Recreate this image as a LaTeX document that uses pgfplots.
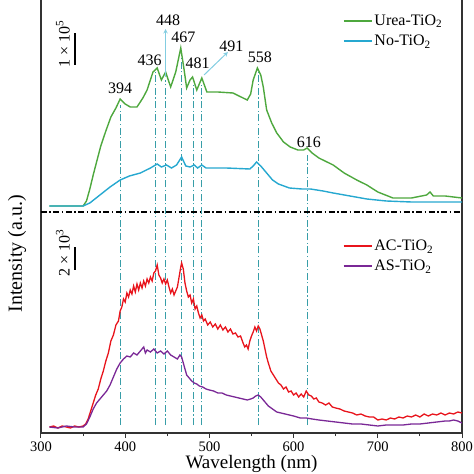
\documentclass[border=0pt]{standalone}
\usepackage{pgfplots}
\pgfplotsset{compat=1.18}
\usepackage{fontspec}
\setmainfont{Liberation Serif}
\definecolor{cgreen}{RGB}{78,168,62}
\definecolor{ccyan}{RGB}{38,168,208}
\definecolor{cred}{RGB}{232,20,28}
\definecolor{cpurple}{RGB}{122,40,150}
\definecolor{cteal}{RGB}{56,158,168}
\definecolor{carrow}{RGB}{130,205,225}
\pgfplotsset{
  base/.style={width=421pt, height=437pt, scale only axis, xmin=300, xmax=800, ymin=0, ymax=437, at={(0pt,0pt)}, anchor=south west},
  leg/.style={legend cell align=left, legend style={draw=none, fill=none, font=\fontsize{16}{18}\selectfont, row sep=4pt, inner sep=0pt, anchor=north west},
    legend image code/.code={\draw[##1] (0pt,0pt) -- (28pt,0pt);}},
  vl/.style={cteal, line width=0.9pt, dash pattern=on 7pt off 2.5pt on 1.2pt off 2.5pt, forget plot},
}
\begin{document}
\begin{tikzpicture}
\path[use as bounding box, clip] (-41pt,-41pt) rectangle (433pt,433pt);
\begin{axis}[base, leg,
  legend style={at={(axis description cs:0.717,0.962)}},
  axis line style={draw=black!80, line width=1.2pt},
  xtick={300,400,...,800}, minor xtick={350,450,...,750}, ytick=\empty,
  xtick pos=bottom, tick align=outside, major tick length=5pt, minor tick length=3pt,
  every tick/.style={black!80, line width=1pt},
  xticklabel style={font=\fontsize{14.5}{16}\selectfont, /pgf/number format/assume math mode=true},
  xlabel={Wavelength (nm)}, xlabel style={font=\fontsize{19}{21}\selectfont, at={(axis description cs:0.5,0)}, anchor=base, yshift=-35.5pt},
  ylabel={Intensity (a.u.)}, ylabel style={font=\fontsize{20}{22}\selectfont, at={(axis description cs:-0.057,0.41)}, anchor=center},
]
% vertical guide lines
\addplot[vl] coordinates {(394,8) (394,328)};
\addplot[vl] coordinates {(436,8) (436,361)};
\addplot[vl] coordinates {(448,8) (448,353)};
\addplot[vl] coordinates {(467,8) (467,378)};
\addplot[vl] coordinates {(481,8) (481,348)};
\addplot[vl] coordinates {(491,8) (491,348)};
\addplot[vl] coordinates {(558,8) (558,361)};
\addplot[vl] coordinates {(616,8) (616,278)};
% separator
\addplot[black, line width=1.1pt, dash pattern=on 6pt off 2.5pt on 1.5pt off 2.5pt, forget plot] coordinates {(300,221) (800,221)};
% Urea-TiO2
\addplot[cgreen, line width=1.4pt] coordinates {
(310,227) (350,227) (354,232) (358,244) (362,258) (366,271) (371,287) (377,302) (383,316) (389,325) (394,334)
(400,329) (406,326) (414,326) (421,335) (426,343) (433,361) (438,365) (443,353) (448,361) (454,346)
(460,361) (466,385) (470,363) (473,345) (477,353) (480,356) (485,343) (491,355) (497,341) (510,341)
(528,340) (540,335) (545,333) (549,339) (552,353) (557,365) (561,358) (564,346) (568,323) (574,310)
(580,300) (588,291) (596,286) (605,283) (612,283) (616,285) (622,280) (630,275) (647,268) (660,260)
(675,253) (687,248) (700,241) (718,235) (740,235) (758,238) (762,241) (766,237) (780,237) (800,235)};
\addlegendentry{Urea-TiO\textsubscript{2}}
% No-TiO2
\addplot[ccyan, line width=1.4pt] coordinates {
(310,227) (350,227) (358,230) (370,238) (382,246) (394,253) (405,257) (418,260) (430,265) (438,269)
(443,266) (449,268) (455,265) (461,268) (467,276) (472,267) (477,266) (482,268) (486,265) (491,268)
(496,265) (520,265) (548,264) (552,267) (556,271) (561,267) (568,260) (575,253) (582,249) (595,245)
(610,244) (620,244) (635,242) (647,240) (667,237) (687,234) (710,232) (740,231) (770,231) (800,231)};
\addlegendentry{No-TiO\textsubscript{2}}
% scale bars
\addplot[black, line width=1.8pt, forget plot] coordinates {(340.4,368) (340.4,400)};
\addplot[black, line width=1.8pt, forget plot] coordinates {(340.4,163) (340.4,186)};
\node[rotate=90, font=\fontsize{16}{18}\selectfont] at (axis cs:326,389) {1 × 10\textsuperscript{5}};
\node[rotate=90, font=\fontsize{16}{18}\selectfont] at (axis cs:326,180) {2 × 10\textsuperscript{3}};
% arrows
\draw[carrow, line width=1pt, -stealth] (axis cs:448,356) -- (axis cs:448,404);
\draw[carrow, line width=1pt, -stealth] (axis cs:493.6,358) -- (axis cs:522,381);
% peak labels
\begin{scope}[every node/.style={font=\fontsize{16}{18}\selectfont}]
\node at (axis cs:394,345) {394};
\node at (axis cs:429,373) {436};
\node at (axis cs:451,413) {448};
\node at (axis cs:469,396) {467};
\node at (axis cs:486,370) {481};
\node at (axis cs:526,387) {491};
\node at (axis cs:560,376) {558};
\node at (axis cs:618,291) {616};
\end{scope}
\end{axis}
\begin{axis}[base, leg, hide axis,
  legend style={at={(axis description cs:0.717,0.447)}}]
\addplot[cred, line width=1.3pt] coordinates {
(310,6) (315,7) (320,5) (325,7) (330,6) (335,5) (340,7) (345,6) (350,7) (353,9) (356,14) (359,22)
(362,30) (365,38) (368,44) (371,54) (374,62) (377,72) (380,80) (383,92) (386,98) (389,108) (392,112)
(394,122) (396,126) (398,134) (400,131) (402,140) (404,136) (406,143) (408,139) (410,147) (412,141)
(414,149) (416,143) (418,150) (420,145) (422,152) (424,147) (426,154) (428,150) (430,156) (432,152)
(434,160) (436,162) (438,168) (440,158) (442,155) (444,150) (446,154) (448,149) (450,153) (452,146)
(454,140) (456,144) (458,138) (460,142) (462,146) (464,156) (466,166) (467,170) (469,164) (471,150)
(473,142) (475,136) (477,138) (479,130) (481,134) (483,124) (485,127) (487,120) (489,115) (491,118)
(493,112) (495,114) (498,108) (501,111) (504,106) (507,109) (510,104) (513,108) (516,103) (519,106)
(522,101) (525,104) (528,99) (531,100) (534,96) (537,97) (540,90) (542,86) (544,88) (546,84) (548,92)
(550,97) (552,101) (554,106) (556,102) (558,107) (560,104) (562,98) (564,92) (566,84) (568,76) (570,70)
(573,62) (576,58) (579,54) (582,50) (585,48) (588,44) (591,46) (594,41) (597,42) (600,38) (603,40)
(606,36) (609,39) (612,36) (615,42) (618,38) (621,37) (624,34) (627,35) (630,31) (634,30) (638,28)
(642,30) (646,26) (650,25) (655,24) (660,22) (665,21) (670,20) (675,18) (680,19) (685,17) (690,16)
(695,16) (700,13) (705,14) (710,13) (715,15) (720,14) (725,16) (730,15) (735,17) (740,16) (745,18)
(750,16) (755,19) (760,17) (765,19) (770,18) (775,20) (780,18) (785,20) (790,19) (795,21) (800,20)};
\addlegendentry{AC-TiO\textsubscript{2}}
\addplot[cpurple, line width=1.3pt] coordinates {
(310,6) (320,5) (330,7) (340,6) (350,6) (354,9) (358,16) (362,24) (366,30) (370,34) (374,38) (378,42)
(382,48) (386,56) (390,64) (394,70) (398,74) (402,77) (406,76) (410,80) (414,78) (418,82) (422,86)
(424,80) (426,83) (430,81) (434,84) (438,80) (442,82) (446,79) (450,82) (454,78) (458,76) (462,74)
(465,78) (467,76) (469,70) (471,64) (473,58) (476,55) (479,52) (482,50) (485,49) (488,47) (492,46)
(496,44) (500,43) (505,42) (510,40) (515,40) (520,38) (525,37) (530,36) (535,35) (540,34) (545,33)
(549,34) (552,35) (555,37) (558,38) (561,36) (564,33) (567,30) (570,27) (575,24) (580,21) (585,20)
(590,19) (595,18) (600,17) (608,15) (615,15) (622,14) (630,13) (640,12) (650,11) (660,10) (670,9)
(680,9) (690,8) (700,7) (710,8) (720,8) (730,8) (740,9) (750,9) (760,10) (770,11) (780,12) (785,12)
(790,13) (795,12) (800,10)};
\addlegendentry{AS-TiO\textsubscript{2}}
\end{axis}
\end{tikzpicture}
\end{document}
